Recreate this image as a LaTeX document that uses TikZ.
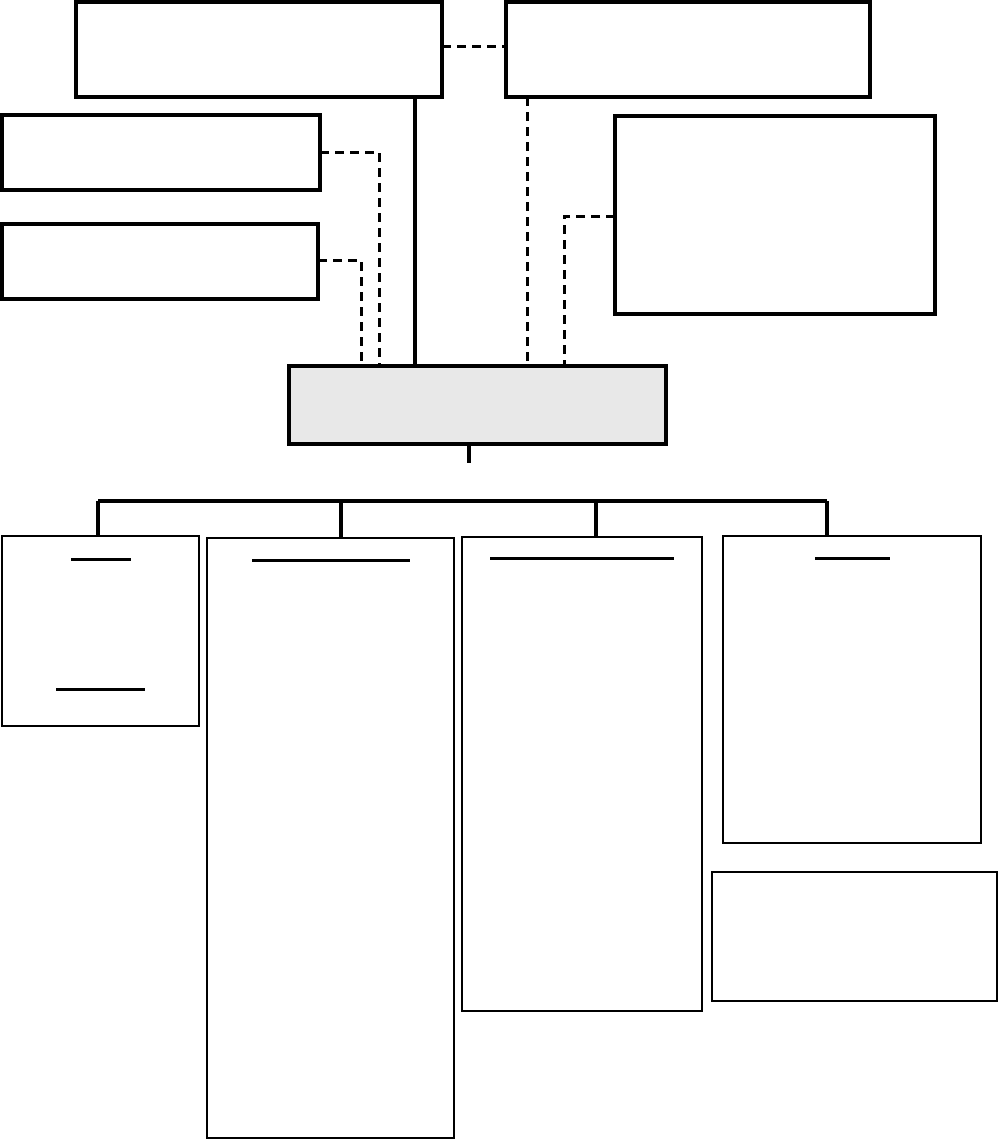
\documentclass[tikz,border=0pt]{standalone}
\begin{document}
\begin{tikzpicture}[x=1pt,y=-1pt,
 box/.style={draw,line width=3.6pt,inner sep=0,outer sep=0,anchor=north west},
 thinbox/.style={box,line width=2.8pt},
 link/.style={line width=3.2pt},
 dlink/.style={line width=3pt,dash pattern=on 9pt off 6pt},
 uline/.style={line width=3pt}]
\useasboundingbox (0,0) rectangle (999,1140);
\newcommand\bx[6]{\node[#1,minimum width=#4-#2,minimum height=#5-#3] (#6) at (#2,#3) {};}
\bx{box}{76}{2}{442}{97}{A}
\bx{box}{506}{2}{870}{97}{B}
\bx{box}{2}{115}{320}{190}{C}
\bx{box}{2}{224}{318}{299}{D}
\bx{box}{615}{116}{935}{314}{E}
\node[box,fill=black!9,line width=4pt,minimum width=377,minimum height=78] (F) at (289,366) {};
\bx{thinbox}{2}{536}{199}{726}{G1}
\bx{thinbox}{207}{538}{454}{1138}{G2}
\bx{thinbox}{462}{537}{702}{1011}{G3}
\bx{thinbox}{723}{536}{981}{843}{G4}
\bx{thinbox}{712}{872}{997}{1001}{H}
\draw[dlink] (A.east|-0,47) -- (B.west|-0,47);
\draw[link] (A.south-|415,0) -- (F.north-|415,0);
\draw[dlink] (B.south-|527,0) -- (F.north-|527,0);
\draw[dlink] (C.east|-0,152) -| (F.north-|379,0);
\draw[dlink] (D.east|-0,260) -| (F.north-|361,0);
\draw[dlink] (E.west|-0,216) -| (F.north-|564,0);
\coordinate (stem) at (469,463);
\draw[link] (F.south-|469,0) -- (stem);
\coordinate (bl) at (98,501); \coordinate (br) at (827,501);
\draw[link] (bl) -- (br);
\draw[link] (bl) -- (G1.north-|98,0);
\draw[link] (341,501) -- (G2.north-|341,0);
\draw[link] (596,501) -- (G3.north-|596,0);
\draw[link] (br) -- (G4.north-|827,0);
\draw[uline] (71,559) -- (131,559);
\draw[uline] (56,689) -- (145,689);
\draw[uline] (252,560) -- (410,560);
\draw[uline] (490,558) -- (674,558);
\draw[uline] (815,558) -- (890,558);
\end{tikzpicture}
\end{document}
